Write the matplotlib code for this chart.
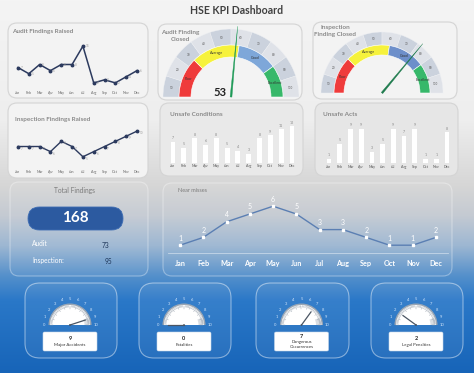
import numpy as np
import matplotlib
matplotlib.use('Agg')
import matplotlib.pyplot as plt
from matplotlib.patches import FancyBboxPatch, Wedge, Polygon, Circle

plt.rcParams['font.family'] = ['Lato', 'DejaVu Sans']

# ---- data ----
months = ['Jan', 'Feb', 'Mar', 'Apr', 'May', 'Jun', 'Jul', 'Aug', 'Sep', 'Oct', 'Nov', 'Dec']
audit_raised = [7, 5, 8, 6, 8, 8, 14, 2, 3, 2, 4, 6]
inspection_raised = [7, 7, 7, 6, 8, 7, 5, 6, 7, 8, 9, 10]
unsafe_conditions = [7, 5, 8, 6, 8, 5, 4, 3, 8, 9, 11, 12]
unsafe_acts = [1, 5, 9, 9, 3, 5, 9, 7, 9, 1, 1, 8]
near_misses = [1, 2, 4, 5, 6, 5, 3, 3, 2, 1, 1, 2]

audit_closed = 53
inspection_closed = 72
band_limits = [0, 25, 55, 80, 100]
band_names = ['Poor', 'Average', 'Good', 'Excellent']

total_findings = 168
audit_total = 73
inspection_total = 95

kpi_names = ['Major Accidents', 'Fatalities', 'Dangerous\nOccurrences', 'Legal Penalties']
kpi_values = [9, 0, 7, 2]

W, H = 474, 373
fig = plt.figure(figsize=(W / 100, H / 100), dpi=100)
bg = fig.add_axes([0, 0, 1, 1])
bg.set_xlim(0, W)
bg.set_ylim(0, H)
bg.set_autoscale_on(False)
bg.axis('off')


def Y(y):
    return H - y


# background gradient: light grey at top to blue at the bottom
stops_y = [0, 120, 185, 215, 245, 275, 300, 373]
stops_c = ['#f4f4f4', '#eeeeee', '#d6d6d6', '#c4cad2', '#9db7d2', '#5590cb', '#2a78c8', '#1764b8']
rgb = np.array([matplotlib.colors.to_rgb(c) for c in stops_c])
yy = np.arange(H)
grad = np.stack([np.interp(yy, stops_y, rgb[:, i]) for i in range(3)], axis=1)
bg.imshow(grad[:, None, :], extent=(0, W, 0, H), aspect='auto', zorder=0)


def panel(x0, y0, x1, y1, fc='#f3f3f3', ec='#d4d4d4', r=9, lw=0.8):
    p = FancyBboxPatch((x0, Y(y1)), x1 - x0, y1 - y0,
                       boxstyle='round,pad=0,rounding_size=%d' % r,
                       fc=fc, ec=ec, lw=lw, zorder=1)
    bg.add_patch(p)


def sub_axes(x0, y0, x1, y1):
    ax = fig.add_axes([x0 / W, 1 - y1 / H, (x1 - x0) / W, (y1 - y0) / H])
    ax.patch.set_alpha(0)
    for s in ax.spines.values():
        s.set_visible(False)
    ax.tick_params(length=0)
    ax.set_yticks([])
    return ax


bg.text(W / 2, Y(10), 'HSE KPI Dashboard', ha='center', va='center',
        fontsize=7.6, fontweight='bold', color='#404040')

# ---- line charts ----
panel(8, 23, 148, 98)
bg.text(12, Y(31), 'Audit Findings Raised', fontsize=4.6, fontweight='bold',
        color='#8a8a8a', va='center')
ax = sub_axes(12.6, 40, 142.4, 89)
x = np.arange(12)
ax.plot(x, audit_raised, color='#2c3a5e', lw=1.1, marker='o', ms=1.8)
for i, v in enumerate(audit_raised):
    ax.text(i + 0.25, v, str(v), fontsize=2.2, color='#999999', va='center')
ax.set_xlim(-0.5, 11.5)
ax.set_ylim(0, 16)
ax.set_xticks(x, months, fontsize=2.6, color='#666666')
ax.tick_params(axis='x', pad=1.5)

panel(8, 103, 148, 178)
bg.text(15, Y(120), 'Inspection Findings Raised', fontsize=4.6, fontweight='bold',
        color='#8a8a8a', va='center')
ax = sub_axes(12.6, 126, 142.4, 167)
ax.plot(x, inspection_raised, color='#2c3a5e', lw=1.0, marker='o', ms=1.8)
for i, v in enumerate(inspection_raised):
    ax.text(i + 0.25, v - 0.4, str(v), fontsize=2.2, color='#999999', va='center')
ax.set_xlim(-0.5, 11.5)
ax.set_ylim(3, 11)
ax.set_xticks(x, months, fontsize=2.6, color='#666666')
ax.tick_params(axis='x', pad=2)

# ---- bar charts ----
panel(160, 103, 303, 176, fc='#e9e9e9')
bg.text(170, Y(114), 'Unsafe Conditions', fontsize=4.6, fontweight='bold',
        color='#8a8a8a', va='center')
ax = sub_axes(167.6, 120, 297.4, 163)
ax.bar(x, unsafe_conditions, width=0.46, color='white', edgecolor='none')
for i, v in enumerate(unsafe_conditions):
    ax.text(i, v + 0.5, str(v), fontsize=2.6, color='#888888', ha='center', va='bottom')
ax.set_xlim(-0.5, 11.5)
ax.set_ylim(0, 14)
ax.set_xticks(x, months, fontsize=2.6, color='#555555')
ax.tick_params(axis='x', pad=1)

panel(315, 103, 458, 176, fc='#e6e6e6')
bg.text(323, Y(114), 'Unsafe Acts', fontsize=4.6, fontweight='bold',
        color='#8a8a8a', va='center')
ax = sub_axes(323.6, 121, 452.4, 163)
ax.bar(x, unsafe_acts, width=0.44, color='white', edgecolor='none')
for i, v in enumerate(unsafe_acts):
    ax.text(i, v + 0.5, str(v), fontsize=2.6, color='#888888', ha='center', va='bottom')
ax.set_xlim(-0.5, 11.5)
ax.set_ylim(0, 11)
ax.set_xticks(x, months, fontsize=2.6, color='#555555')
ax.tick_params(axis='x', pad=1.5)

# ---- semicircle gauges ----
band_colors = [['#ef3b3b', '#f6f23c', '#7ea7d9', '#37b86a'],
               ['#ef3b3b', '#f6f23c', '#6d8fca', '#37b86a']]


def big_gauge(cx, cy, r_in, r_band, r_out, value, colors, needle_color, needle_len):
    c = (cx, Y(cy))
    for k in range(10):
        fc = '#cbd2dd' if k % 2 == 0 else '#dfe2e8'
        bg.add_patch(Wedge(c, r_out, 180 - (k + 1) * 18, 180 - k * 18,
                           width=r_out - r_band, fc=fc, ec='#eef0f3', lw=0.3, zorder=2))
        a = np.radians(180 - (k + 0.5) * 18)
        rr = (r_out + r_band) / 2
        bg.text(cx + rr * np.cos(a), Y(cy) + rr * np.sin(a), str((k + 1) * 10),
                fontsize=2.2, color='#555555', ha='center', va='center', zorder=3)
    for k in range(4):
        lo, hi = band_limits[k], band_limits[k + 1]
        bg.add_patch(Wedge(c, r_band, 180 - hi * 1.8, 180 - lo * 1.8,
                           width=r_band - r_in, fc=colors[k], ec='white', lw=0.4, zorder=2))
        a = np.radians(180 - (lo + hi) / 2 * 1.8)
        rr = (r_band + r_in) / 2
        bg.text(cx + rr * np.cos(a), Y(cy) + rr * np.sin(a), band_names[k],
                fontsize=2.6, color='#333333', ha='center', va='center', zorder=3)
    a = np.radians(180 - value * 1.8)
    tip = (cx + needle_len * np.cos(a), Y(cy) + needle_len * np.sin(a))
    n = np.array([-np.sin(a), np.cos(a)]) * 0.9
    bg.add_patch(Polygon([(cx + n[0], Y(cy) + n[1]), tip, (cx - n[0], Y(cy) - n[1])],
                         closed=True, fc=needle_color, ec=needle_color, lw=0.3, zorder=4))


panel(158, 24, 302, 100)
big_gauge(231, 97, 40, 52, 68, audit_closed, band_colors[0], '#1f9a58', 71)
bg.text(180, Y(36), 'Audit Finding\nClosed', fontsize=4.6, fontweight='bold',
        color='#8a8a8a', ha='center', va='center', linespacing=1.3)
bg.text(220, Y(92), str(audit_closed), fontsize=8, fontweight='bold',
        color='#222222', ha='center', va='center', zorder=5)

panel(313, 22, 457, 99)
big_gauge(382, 93, 38, 48, 61, inspection_closed, band_colors[1], '#1d7a4c', 64)
bg.text(335, Y(31), 'Inspection\nFinding Closed', fontsize=4.6, fontweight='bold',
        color='#8a8a8a', ha='center', va='center', linespacing=1.3)

# ---- total findings ----
panel(10, 182, 148, 276, fc=(1, 1, 1, 0.05), ec=(1, 1, 1, 0.35))
bg.text(75, Y(191), 'Total Findings', fontsize=4.8, color='#7a7a7a',
        ha='center', va='center')
bg.add_patch(FancyBboxPatch((28, Y(230)), 95, 23, boxstyle='round,pad=0,rounding_size=11.5',
                            fc='#2c5aa0', ec='#3e6db3', lw=0.6, zorder=2))
bg.text(75.5, Y(218.5), str(total_findings), fontsize=11, fontweight='bold',
        color='white', ha='center', va='center', zorder=3)
bg.text(32, Y(244), 'Audit', fontsize=4.8, color='white', va='center')
bg.text(106, Y(246), str(audit_total), fontsize=4.8, color='#1d3558', ha='center', va='center')
bg.text(32, Y(261), 'Inspection:', fontsize=4.8, color='white', va='center')
bg.text(108, Y(261), str(inspection_total), fontsize=4.8, color='#1d3558', ha='center', va='center')

# ---- near misses ----
panel(163, 183, 452, 276, fc=(1, 1, 1, 0.04), ec=(1, 1, 1, 0.35))
bg.text(178, Y(190), 'Near misses', fontsize=4, color='#7a7a7a', va='center')
ax = sub_axes(168.4, 198.4, 447.6, 253)
ax.plot(x, near_misses, color='#5b7fb3', lw=1.0, marker='s', ms=1.6,
        mfc='white', mec='white')
for i, v in enumerate(near_misses):
    ax.text(i, v + 0.45, str(v), fontsize=5, color='white', ha='center', va='bottom')
ax.set_xlim(-0.5, 11.5)
ax.set_ylim(0, 7)
ax.spines['bottom'].set_visible(True)
ax.spines['bottom'].set_color((1, 1, 1, 0.5))
ax.spines['bottom'].set_linewidth(0.6)
ax.set_xticks(x, months, fontsize=5.2, fontweight='bold', color='white')
ax.tick_params(axis='x', pad=5)

# ---- bottom KPI dials ----
squares = [(25, 117), (139, 231), (256, 349), (371, 463)]
for (sx0, sx1), name, val in zip(squares, kpi_names, kpi_values):
    cx = (sx0 + sx1) / 2 - 1
    cy = 325
    panel(sx0, 283, sx1, 358, fc=(1, 1, 1, 0.06), ec=(1, 1, 1, 0.45), r=15)
    c = (cx, Y(cy))
    bg.add_patch(Wedge(c, 21.5, 0, 180, fc='#9aa6b4', ec='none', zorder=2))
    bg.add_patch(Wedge(c, 20, 0, 180, fc='white', ec='none', zorder=2))
    bg.add_patch(Wedge(c, 19.5, 0, 22, width=5, fc='#d9dde2', ec='none', zorder=2))
    for k in range(51):
        a = np.radians(180 - k * 3.6)
        r1 = 16.5 if k % 5 == 0 else 17.8
        bg.plot([cx + r1 * np.cos(a), cx + 19.5 * np.cos(a)],
                [Y(cy) + r1 * np.sin(a), Y(cy) + 19.5 * np.sin(a)],
                color='#8c96a3', lw=0.3, zorder=3)
    for k in range(11):
        a = np.radians(180 - k * 18)
        bg.text(cx + 26 * np.cos(a), Y(cy) + 26 * np.sin(a), str(k),
                fontsize=3, color='#cfe4fa', ha='center', va='center', zorder=3)
    a = np.radians(180 - val * 18)
    bg.plot([cx, cx + 16 * np.cos(a)], [Y(cy), Y(cy) + 16 * np.sin(a)],
            color='#4a5563', lw=0.9, zorder=4)
    bg.add_patch(Circle(c, 0.9, fc='#4a5563', ec='none', zorder=5))
    bg.add_patch(FancyBboxPatch((cx - 27, Y(351)), 54, 19, boxstyle='round,pad=0,rounding_size=1.5',
                                fc='white', ec='#c8d8ea', lw=0.4, zorder=4))
    if '\n' in name:
        bg.text(cx, Y(336), str(val), fontsize=4, fontweight='bold', color='#222222',
                ha='center', va='center', zorder=5)
        bg.text(cx, Y(344.5), name, fontsize=3.2, color='#333333', ha='center',
                va='center', linespacing=1.1, zorder=5)
    else:
        bg.text(cx, Y(338), str(val), fontsize=4, fontweight='bold', color='#222222',
                ha='center', va='center', zorder=5)
        bg.text(cx, Y(345), name, fontsize=3.2, color='#333333', ha='center',
                va='center', zorder=5)

bg.set_xlim(0, W)
bg.set_ylim(0, H)
fig.savefig('out.png', dpi=100)
